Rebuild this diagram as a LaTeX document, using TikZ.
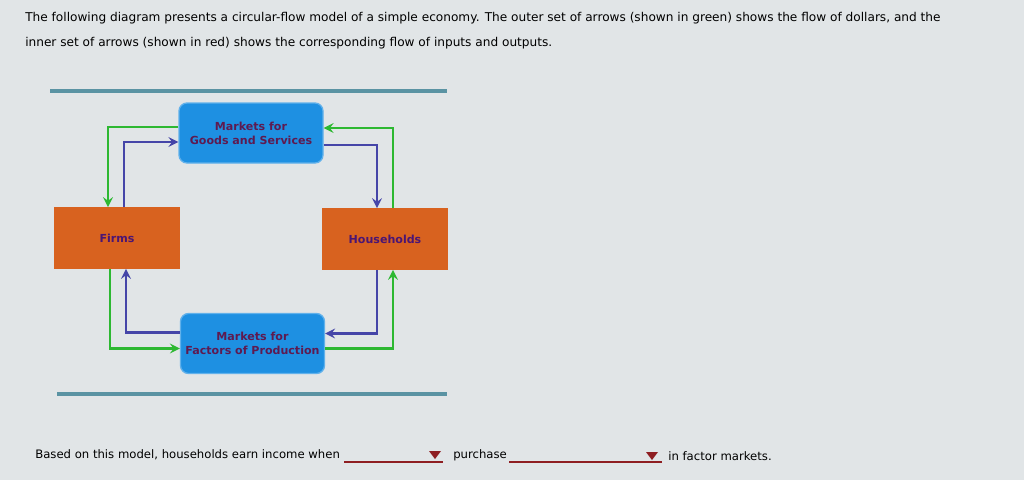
\documentclass[tikz,border=0pt]{standalone}
\usepackage{fontspec}
\setmainfont{DejaVu Sans}
\usepackage{tikz}
\usetikzlibrary{calc}
\usetikzlibrary{arrows}

\definecolor{paper}{HTML}{E1E5E7}
\definecolor{boxblue}{HTML}{1E90E2}
\definecolor{boxorange}{HTML}{D8621F}
\definecolor{boxtext}{HTML}{5E1A50}
\definecolor{dollargreen}{HTML}{2DB832}
\definecolor{flowblue}{HTML}{4545A8}
\definecolor{rule}{HTML}{5A93A3}
\definecolor{blankred}{HTML}{8E1E22}

\tikzset{
  market/.style={draw=boxblue!70!white, line width=1pt, fill=boxblue, rounded corners=6pt,
    minimum width=108pt, minimum height=45pt, align=center, text=boxtext,
    font=\fontsize{8.3}{10.5}\selectfont\bfseries},
  sector/.style={fill=boxorange, minimum width=94pt, minimum height=46pt,
    text=boxtext!80!blue, font=\fontsize{8.3}{10}\selectfont\bfseries},
  greenflow/.style={draw=dollargreen, line width=2.2pt, ->, >=stealth},
  blueflow/.style={draw=flowblue, line width=2.2pt, ->, >=stealth},
  question/.style={anchor=base west, inner sep=0pt, font=\fontsize{9.1}{11}\selectfont},
  answer/.style={anchor=base west, inner sep=0pt, font=\fontsize{8.75}{10}\selectfont}
}

\begin{document}
\begin{tikzpicture}[x=0.75pt, y=-0.75pt]
\fill[paper] (0,0) rectangle (1024,480);
\useasboundingbox (0,0) rectangle (1024,480);

% question text
\node[question] (intro1) at (25,21) {The following diagram presents a circular-flow model of a simple economy. The outer set of arrows (shown in green) shows the flow of dollars, and the};
\node[question] (intro2) at (25,46) {inner set of arrows (shown in red) shows the corresponding flow of inputs and outputs.};

% rules
\draw[rule, line width=2.4pt] (50,91) -- (447,91);
\draw[rule, line width=2.4pt] (57,394) -- (447,394);

% boxes
\node[market] (goods) at (251,133) {Markets for\\Goods and Services};
\node[sector] (firms) at (117,238) {Firms};
\node[sector] (households) at (385,239) {Households};
\node[market] (factors) at (252.5,343.5) {Markets for\\Factors of Production};

% dollars
\draw[greenflow] ($(households.north)+(8,0)$) |- ($(goods.east)+(0,-5)$);
\draw[greenflow] ($(goods.west)+(0,-6)$) -| ($(firms.north)+(-9,0)$);
\draw[greenflow] ($(firms.south)+(-7,0)$) |- ($(factors.west)+(0,5)$);
\draw[greenflow] ($(factors.east)+(0,5)$) -| ($(households.south)+(8,0)$);

% inputs and outputs
\draw[blueflow] ($(firms.north)+(7,0)$) |- ($(goods.west)+(0,9)$);
\draw[blueflow] ($(goods.east)+(0,12)$) -| ($(households.north)+(-8,0)$);
\draw[blueflow] ($(households.south)+(-8,0)$) |- ($(factors.east)+(0,-10)$);
\draw[blueflow] ($(factors.west)+(0,-11)$) -| ($(firms.south)+(9,0)$);

% answer line
\node[answer] (ask) at (35,458) {Based on this model, households earn income when};
\draw[blankred, line width=1pt] (344,462) -- (443,462);
\fill[blankred] (429,451) -- (441,451) -- (435,459) -- cycle;
\node[answer] (verb) at (453,458) {purchase};
\draw[blankred, line width=1pt] (509,462) -- (662,462);
\fill[blankred] (646,452) -- (658,452) -- (652,460) -- cycle;
\node[answer] (tail) at (668,460) {in factor markets.};
\end{tikzpicture}
\end{document}
